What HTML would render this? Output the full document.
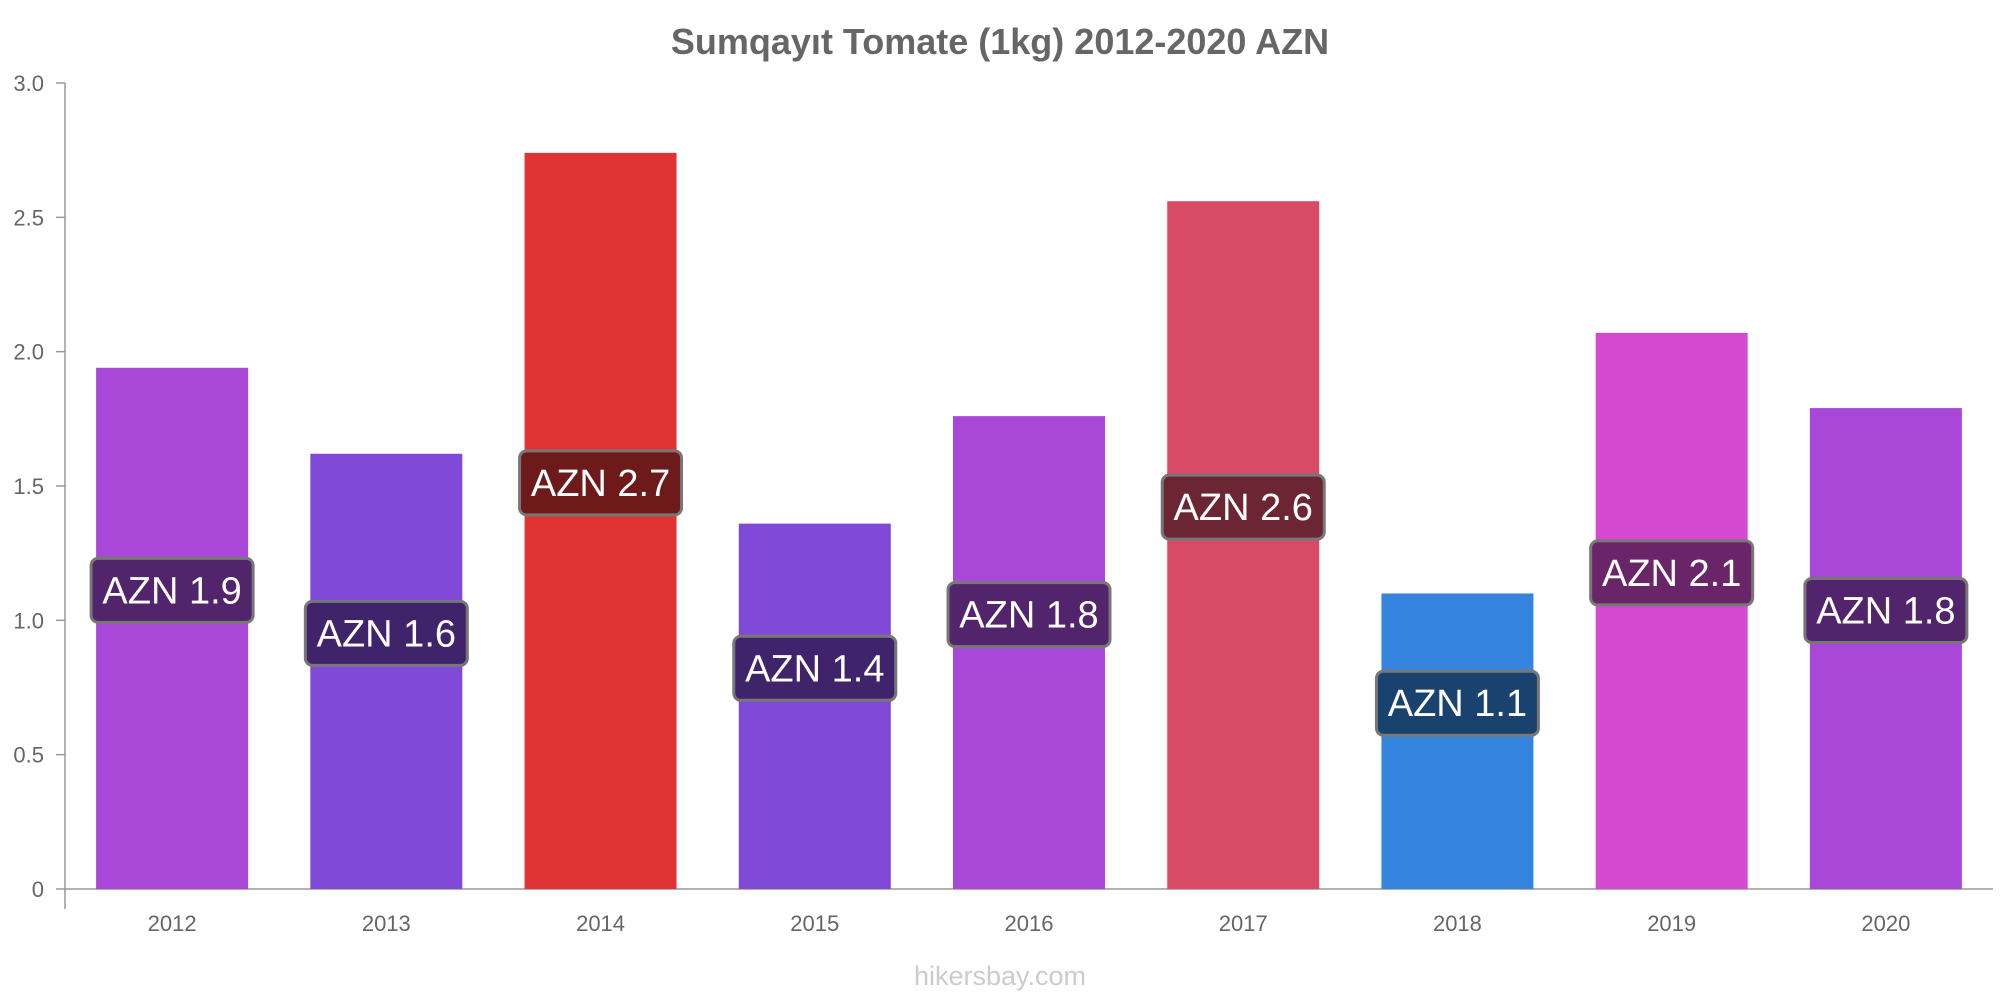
<!DOCTYPE html>
<html><head><meta charset="utf-8"><style>
body{margin:0;background:#fff;}
svg text{font-family:"Liberation Sans",sans-serif;}
</style></head><body>
<svg id="chart" width="2000" height="1000" xmlns="http://www.w3.org/2000/svg">
<text x="1000" y="54" text-anchor="middle" font-size="36" font-weight="bold" fill="#666">Sumqayıt Tomate (1kg) 2012-2020 AZN</text>
<g id="axes"></g>
<g id="bars"></g>
<g id="labels"></g>
<text x="1000" y="985" text-anchor="middle" font-size="27" fill="#ccc">hikersbay.com</text>
</svg>
<script>
const categories=["2012","2013","2014","2015","2016","2017","2018","2019","2020"];
const values=[1.94,1.62,2.74,1.36,1.76,2.56,1.10,2.07,1.79];
const valueLabels=["AZN 1.9","AZN 1.6","AZN 2.7","AZN 1.4","AZN 1.8","AZN 2.6","AZN 1.1","AZN 2.1","AZN 1.8"];
const barColors=["#a948d8","#8049d8","#e03434","#8049d8","#a948d8","#d94a67","#3584df","#d548d0","#a948d8"];
const labelColors=["#52246b","#40246b","#6f1a1a","#40246b","#52246b","#6c2533","#1a426f","#6a2468","#52246b"];
const yTicks=[0,0.5,1.0,1.5,2.0,2.5,3.0];
const yTickLabels=["0","0.5","1.0","1.5","2.0","2.5","3.0"];
const NS="http://www.w3.org/2000/svg";
const x0=65,x1=1993,yBase=889,yTop=83,yMax=3;
const step=(x1-x0)/categories.length;
const y=v=>yBase-(v/yMax)*(yBase-yTop);
const xc=i=>x0+step*(i+0.5);
function mk(tag,attrs,parent){const e=document.createElementNS(NS,tag);for(const k in attrs)e.setAttribute(k,attrs[k]);parent.appendChild(e);return e;}
const axes=document.getElementById('axes'),bars=document.getElementById('bars'),labels=document.getElementById('labels');
let l=mk('line',{x1:x0,y1:yTop,x2:x0,y2:909,stroke:'#999','stroke-width':1.5},axes);


l=mk('line',{x1:x0,y1:yBase,x2:x1,y2:yBase,stroke:'#999','stroke-width':1.5},axes);


yTicks.forEach((t,i)=>{
 const tk=mk('line',{x1:56,y1:y(t),x2:x0,y2:y(t),stroke:'#999','stroke-width':1.5},axes);
 
 
 const tx=mk('text',{x:44,y:y(t)+8,'text-anchor':'end','font-size':22,fill:'#666'},axes);
 tx.textContent=yTickLabels[i];
 
 
});
categories.forEach((c,i)=>{
 const bw=152,cx=xc(i),top=y(values[i]);
 const r=mk('rect',{x:cx-bw/2,y:top,width:bw,height:yBase-top,fill:barColors[i]},bars);
 
 
 const tx=mk('text',{x:cx,y:931,'text-anchor':'middle','font-size':22,fill:'#666'},axes);
 tx.textContent=c;
 
 
 const ly=(top+yBase)/2-38;
 const g=mk('g',{},labels);
 
 
 mk('rect',{x:cx-81,y:ly-32,width:162,height:64,rx:7,fill:labelColors[i],stroke:'#777','stroke-width':3},g);
 const t=mk('text',{x:cx,y:ly+13,'text-anchor':'middle','font-size':38,fill:'#fff'},g);
 t.textContent=valueLabels[i];
});
</script>
</body></html>
